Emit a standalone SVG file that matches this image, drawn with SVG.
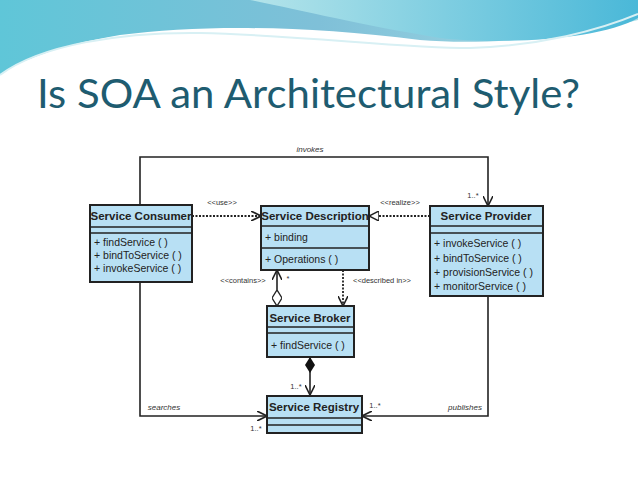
<svg xmlns="http://www.w3.org/2000/svg" width="638" height="479" viewBox="0 0 638 479">
<defs>
<linearGradient id="sw" x1="0" y1="0" x2="1" y2="0"><stop offset="0" stop-color="#5fc6d8"/><stop offset="0.5" stop-color="#7fc0d8"/><stop offset="1" stop-color="#a6dde6"/></linearGradient>
<linearGradient id="sw2" x1="0" y1="0" x2="1" y2="0"><stop offset="0" stop-color="#b4e4ea"/><stop offset="1" stop-color="#4ab8d8"/></linearGradient>
<marker id="open" viewBox="0 0 10 10" refX="10" refY="5" markerWidth="10" markerHeight="10" markerUnits="userSpaceOnUse" orient="auto"><path d="M0,0 L10,5 L0,10" fill="none" stroke="#222" stroke-width="1.6"/></marker>
<marker id="tri" viewBox="0 0 10 10" refX="10" refY="5" markerWidth="10" markerHeight="10" markerUnits="userSpaceOnUse" orient="auto"><path d="M0,0 L10,5 L0,10 Z" fill="#fff" stroke="#222" stroke-width="1.5"/></marker>
<marker id="hd" viewBox="0 0 16 10" refX="0" refY="5" markerWidth="16" markerHeight="10" markerUnits="userSpaceOnUse" orient="auto"><path d="M0,5 L8,0 L16,5 L8,10 Z" fill="#fff" stroke="#222" stroke-width="1.4"/></marker>
<marker id="fd" viewBox="0 0 16 10" refX="0" refY="5" markerWidth="16" markerHeight="10" markerUnits="userSpaceOnUse" orient="auto"><path d="M0,5 L8,0 L16,5 L8,10 Z" fill="#111"/></marker>
</defs>
<style>
.box{fill:#b8e0f4;stroke:#222;stroke-width:2}
.sep{stroke:#222;stroke-width:1.6}
.t{font-family:"Liberation Sans",Arial,sans-serif;font-size:11.5px;font-weight:bold;fill:#222}
.m{font-family:"Liberation Sans",Arial,sans-serif;font-size:10.5px;fill:#222}
.l{font-family:"Liberation Sans",Arial,sans-serif;font-size:7.5px;fill:#333}
.li{font-family:"Liberation Sans",Arial,sans-serif;font-size:8px;font-style:italic;fill:#333}
.c{fill:none;stroke:#222;stroke-width:1.6}
.d{fill:none;stroke:#222;stroke-width:1.8;stroke-dasharray:2 1.5}
</style>
<rect width="638" height="479" fill="#fff"/>
<path d="M0,0 H638 V20 C560,40 480,45 420,40 C300,25 200,25 120,35 C60,45 20,60 0,75 Z" fill="url(#sw)"/>
<path d="M250,0 H638 V18 C600,40 500,45 440,38 C360,25 300,10 250,0 Z" fill="url(#sw2)"/>
<path d="M0,75 C40,45 120,32 200,33 C300,35 400,48 470,48 C540,46 600,30 638,14" fill="none" stroke="#d8f0f4" stroke-width="2"/>
<text x="37" y="108" font-family="Lato,'Open Sans',sans-serif" font-size="40" fill="#1e5c70" textLength="543" lengthAdjust="spacingAndGlyphs">Is SOA an Architectural Style?</text>

<g id="connectors">
<path class="c" d="M140,205 V157 H488 V206" marker-end="url(#open)"/>
<path class="d" d="M192,216 H261" marker-end="url(#open)"/>
<path class="d" d="M430,216 H369" marker-end="url(#tri)"/>
<path class="c" d="M277,306 V270" marker-start="url(#hd)" marker-end="url(#open)"/>
<path class="d" d="M343,270 V306" marker-end="url(#open)"/>
<path class="c" d="M310,357 V395" marker-start="url(#fd)" marker-end="url(#open)"/>
<path class="c" d="M140,282 V416 H267" marker-end="url(#open)"/>
<path class="c" d="M488,296 V416 H362" marker-end="url(#open)"/>
<text class="li" x="310" y="152" text-anchor="middle">invokes</text>
<text class="l" x="473" y="198" text-anchor="middle">1..*</text>
<text class="l" x="222" y="205" text-anchor="middle">&lt;&lt;use&gt;&gt;</text>
<text class="l" x="400" y="205" text-anchor="middle">&lt;&lt;realize&gt;&gt;</text>
<text class="l" x="243" y="283" text-anchor="middle">&lt;&lt;contains&gt;&gt;</text>
<text class="l" x="288" y="281" text-anchor="middle">*</text>
<text class="l" x="382" y="283" text-anchor="middle">&lt;&lt;described in&gt;&gt;</text>
<text class="l" x="296" y="389" text-anchor="middle">1..*</text>
<text class="li" x="164" y="410" text-anchor="middle">searches</text>
<text class="l" x="256" y="431" text-anchor="middle">1..*</text>
<text class="li" x="465" y="410" text-anchor="middle">publishes</text>
<text class="l" x="375" y="408" text-anchor="middle">1..*</text>
</g>

<g id="consumer">
<rect class="box" x="90" y="205" width="102" height="77"/>
<line class="sep" x1="90" y1="227" x2="192" y2="227"/><line class="sep" x1="90" y1="233" x2="192" y2="233"/>
<text class="t" x="141" y="220" text-anchor="middle">Service Consumer</text>
<text class="m" x="94" y="246">+ findService ( )</text>
<text class="m" x="94" y="259">+ bindToService ( )</text>
<text class="m" x="94" y="272">+ invokeService ( )</text>
</g>
<g id="description">
<rect class="box" x="261" y="206" width="108" height="64"/>
<line class="sep" x1="261" y1="226" x2="369" y2="226"/><line class="sep" x1="261" y1="248" x2="369" y2="248"/>
<text class="t" x="315" y="220" text-anchor="middle">Service Description</text>
<text class="m" x="265" y="241">+ binding</text>
<text class="m" x="265" y="263">+ Operations ( )</text>
</g>
<g id="provider">
<rect class="box" x="430" y="206" width="113" height="90"/>
<line class="sep" x1="430" y1="226" x2="543" y2="226"/><line class="sep" x1="430" y1="233" x2="543" y2="233"/>
<text class="t" x="486" y="220" text-anchor="middle">Service Provider</text>
<text class="m" x="434" y="247">+ invokeService ( )</text>
<text class="m" x="434" y="262">+ bindToService ( )</text>
<text class="m" x="434" y="276">+ provisionService ( )</text>
<text class="m" x="434" y="290">+ monitorService ( )</text>
</g>
<g id="broker">
<rect class="box" x="267" y="306" width="87" height="51"/>
<line class="sep" x1="267" y1="327" x2="354" y2="327"/><line class="sep" x1="267" y1="333" x2="354" y2="333"/>
<text class="t" x="310" y="322" text-anchor="middle">Service Broker</text>
<text class="m" x="271" y="349">+ findService ( )</text>
</g>
<g id="registry">
<rect class="box" x="267" y="396" width="95" height="37"/>
<line class="sep" x1="267" y1="418" x2="362" y2="418"/><line class="sep" x1="267" y1="425" x2="362" y2="425"/>
<text class="t" x="314" y="411" text-anchor="middle">Service Registry</text>
</g>
</svg>
